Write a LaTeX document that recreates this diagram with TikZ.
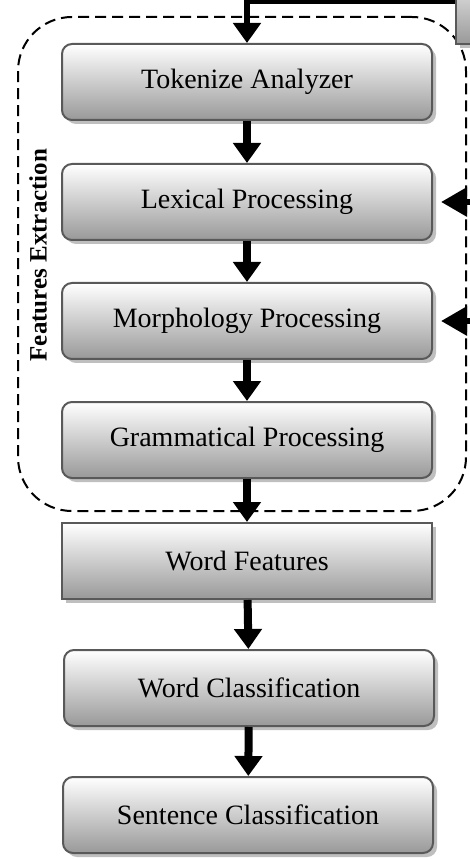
\documentclass[tikz,border=0pt]{standalone}
\usepackage{fontspec}
\setmainfont{Liberation Serif}
\usetikzlibrary{arrows.meta,shadows,fit}
\begin{document}
\begin{tikzpicture}[x=0.5pt,y=-0.5pt,
  proc/.style={rectangle,rounded corners=5pt,draw=black!65,line width=1pt,top color=white,bottom color=black!40,minimum width=185pt,minimum height=38pt,font=\fontsize{14}{16}\selectfont,drop shadow={shadow xshift=2pt,shadow yshift=-2pt,fill=black!25,opacity=1}},
  feat/.style={proc,sharp corners},
  flow/.style={line width=4pt,-{Triangle[width=13.5pt,length=10pt]}},
  feed/.style={line width=3pt,-{Triangle[width=14pt,length=13pt]}},
  group/.style={draw,dash pattern=on 5.5pt off 3pt,line width=1pt,rounded corners=27pt,inner sep=0pt}]
\useasboundingbox (0,0) rectangle (470,860);
%\node at (247,0) {input};
\node[group,fit={(18,17) (466,511)}] (fe) {};
\node[rotate=90,font=\bfseries\fontsize{12.5}{15}\selectfont] (felbl) at (38,255) {Features Extraction};
\node[feat,minimum width=100pt,minimum height=43pt,anchor=south west] (src) at (455,45) {};
\node[proc] (tok) at (247,82) {Tokenize Analyzer};
\node[proc] (lex) at (247,202) {Lexical Processing};
\node[proc] (morph) at (247,321) {Morphology Processing};
\node[proc] (gram) at (247,440) {Grammatical Processing};
\node[feat] (wf) at (247,561) {Word Features};
\node[proc] (wc) at (249,688) {Word Classification};
\node[proc] (sc) at (248,815) {Sentence Classification};
\coordinate (in1) at (500,202); \coordinate (in2) at (500,321);
\draw[flow,line width=3pt] (src.west) -| (tok.north);
\draw[flow] (tok) -- (lex); \draw[flow] (lex) -- (morph);
\draw[flow] (morph) -- (gram); \draw[flow] (gram) -- (wf);
\draw[flow] (wf) -- (wc); \draw[flow] (wc) -- (sc);
\draw[feed,shorten >=4pt] (in1) -- (lex.east); \draw[feed,shorten >=4pt] (in2) -- (morph.east);
\end{tikzpicture}
\end{document}
